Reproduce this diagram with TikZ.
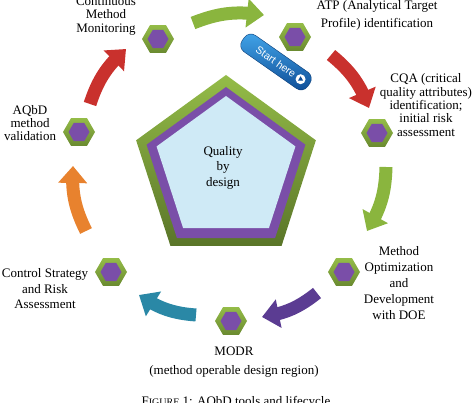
\documentclass[tikz,border=0pt]{standalone}
\usepackage{fontspec}
\setmainfont{Liberation Serif}
\setsansfont{Liberation Sans}
\usetikzlibrary{shapes.geometric,arrows.meta,bending,calc}

\definecolor{hexgreen}{HTML}{94BC48}
\definecolor{hexgreendk}{HTML}{6A8A30}
\definecolor{hexpurple}{HTML}{7A4EA8}
\definecolor{qbdblue}{HTML}{CFEAF6}
\definecolor{arrgreen}{HTML}{8AB53E}
\definecolor{arrred}{HTML}{C9312D}
\definecolor{arrpurple}{HTML}{5B3C92}
\definecolor{arrteal}{HTML}{2A88A6}
\definecolor{arrorange}{HTML}{E8822E}
\definecolor{btntop}{HTML}{43A6EA}
\definecolor{btnbot}{HTML}{0D4C96}

\tikzset{
  hexout/.style={regular polygon, regular polygon sides=6, minimum size=32pt,
    inner sep=0pt, top color=hexgreen, bottom color=hexgreendk},
  hexin/.style={regular polygon, regular polygon sides=6, minimum size=21pt,
    inner sep=0pt, fill=hexpurple},
  lbl/.style={align=center, inner sep=0pt},
  flow/.style={line width=13pt, -{Triangle[width=28pt,length=17pt]}},
  pent/.style={regular polygon, regular polygon sides=5, inner sep=0pt},
}

\begin{document}
\begin{tikzpicture}[x=1pt, y=-1pt, font=\fontsize{13}{13.5}\selectfont]
  \useasboundingbox (0,0) rectangle (474,403);

  % quality by design pentagon
  \node[pent, minimum size=189pt, top color=hexgreen, bottom color=hexgreendk!85!black] (qbd-out) at (226,169.5) {};
  \node[pent, minimum size=167pt, fill=hexpurple] (qbd-mid) at (226,170.5) {};
  \node[pent, minimum size=146pt, fill=qbdblue] (qbd-in) at (226,169) {};
  \node[lbl, font=\fontsize{13}{15.5}\selectfont] (qbd-t) at (223,167.5) {Quality\\by\\design};

  % lifecycle steps
  \node[hexout] (atp) at (295,37) {};
  \node[hexin] (atp-c) at (atp) {};
  \node[hexout] (cqa) at (377,133) {};
  \node[hexin] (cqa-c) at (cqa) {};
  \node[hexout] (opt) at (344,272) {};
  \node[hexin] (opt-c) at (opt) {};
  \node[hexout] (modr) at (231,321) {};
  \node[hexin] (modr-c) at (modr) {};
  \node[hexout] (ctrl) at (111,272) {};
  \node[hexin] (ctrl-c) at (ctrl) {};
  \node[hexout] (val) at (79,132) {};
  \node[hexin] (val-c) at (val) {};
  \node[hexout] (mon) at (158,39) {};
  \node[hexin] (mon-c) at (mon) {};

  \node[lbl, font=\fontsize{13}{18}\selectfont] (atp-t) at (377,15) {ATP (Analytical Target\\Profile) identification};
  \node[lbl, font=\fontsize{13}{13.3}\selectfont] (cqa-t) at (426,105) {CQA (critical\\quality attributes)\\identification;\\initial risk\\assessment};
  \node[lbl, font=\fontsize{13}{16}\selectfont] (opt-t) at (399,283) {Method\\Optimization\\and\\Development\\with DOE};
  \node[lbl, font=\fontsize{13}{19}\selectfont] (modr-t) at (234,362) {MODR\\(method operable design region)};
  \node[lbl, font=\fontsize{13}{15.5}\selectfont] (ctrl-t) at (45,289) {Control Strategy\\and Risk\\Assessment};
  \node[lbl, font=\fontsize{13}{13}\selectfont] (val-t) at (30,123) {AQbD\\method\\validation};
  \node[lbl] (mon-t) at (106,16) {Continuous\\Method\\Monitoring};

  % cycle arrows, tail and tip of each
  \coordinate (a1) at (193,23);  \coordinate (b1) at (264,15);
  \coordinate (a2) at (331,55);  \coordinate (b2) at (369,108);
  \coordinate (a3) at (386,167); \coordinate (b3) at (367,231);
  \coordinate (a4) at (317,293); \coordinate (b4) at (262,317);
  \coordinate (a5) at (196,315); \coordinate (b5) at (139,295);
  \coordinate (a6) at (86,231);  \coordinate (b6) at (73,166);
  \coordinate (a7) at (90,104);  \coordinate (b7) at (126,49);
  \draw[flow, arrgreen] (a1) to[bend left=15] (b1);
  \draw[flow, arrred] (a2) to[bend left=15] (b2);
  \draw[flow, arrgreen] (a3) to[bend left=15] (b3);
  \draw[flow, arrpurple] (a4) to[bend left=15] (b4);
  \draw[flow, arrteal] (a5) to[bend left=15] (b5);
  \draw[flow, arrorange] (a6) to[bend left=15] (b6);
  \draw[flow, arrred] (a7) to[bend left=15] (b7);

  % start button
  \node[rectangle, rounded corners=8pt, minimum width=80pt, minimum height=20pt, inner sep=1pt,
    rotate=-35, top color=btntop, bottom color=btnbot, draw=btnbot!80!black, text=white,
    font=\sffamily\fontsize{10.5}{10.5}\selectfont] (start) at (276,62) {Start here\hspace{14pt}};
  \node[circle, fill=white, minimum size=10pt, inner sep=0pt] (play) at ($(start.center)+(-35:30pt)$) {};
  \node[regular polygon, regular polygon sides=3, fill=btnbot, minimum size=6pt, inner sep=0pt] (play-tri) at (play) {};

  \node[anchor=base] (cap) at (236,405) {F{\fontsize{10}{10}\selectfont IGURE} 1: AQbD tools and lifecycle};
\end{tikzpicture}
\end{document}
